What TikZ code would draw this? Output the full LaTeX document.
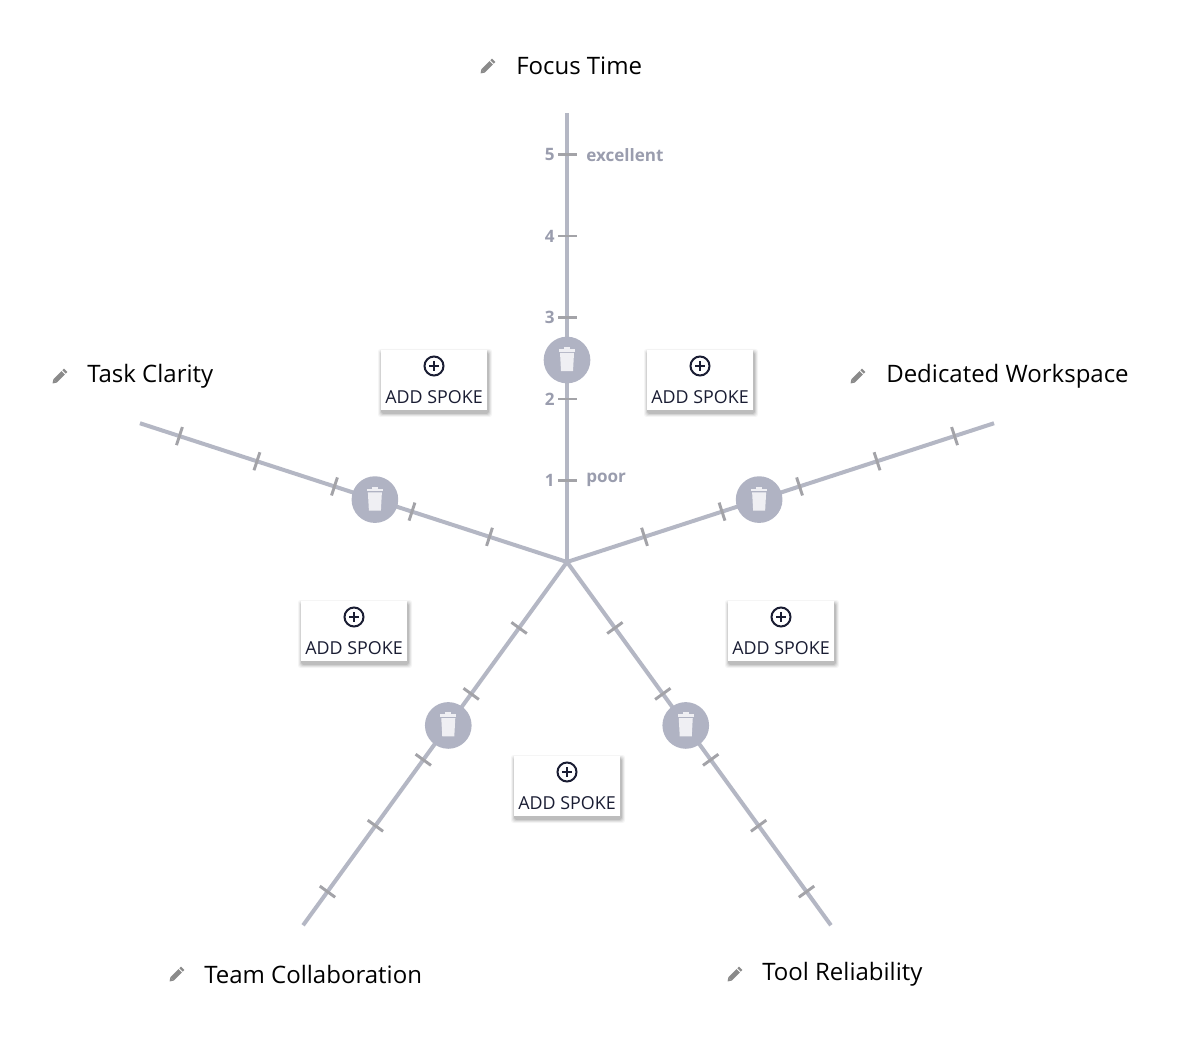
\documentclass[tikz,border=0pt]{standalone}
\usepackage{fontspec}
\setmainfont{Open Sans}
\usetikzlibrary{calc}
\definecolor{spoke}{HTML}{B4B7C4}
\definecolor{tickc}{HTML}{A3A3A8}
\definecolor{numc}{HTML}{9A9DAE}
\definecolor{trashc}{HTML}{B0B3C3}
\definecolor{pen}{HTML}{8A8A8A}
\definecolor{ink}{HTML}{1A1D33}
\tikzset{
  spokeline/.style={draw=spoke,line width=3pt},
  tickmark/.style={draw=tickc,line width=2.2pt},
  num/.style={text=numc,font=\bfseries\fontsize{12.8}{14}\selectfont,inner sep=0pt},
  lab/.style={font=\fontsize{18}{20}\selectfont,anchor=west,inner sep=0pt},
  btn/.style={draw=none,fill=white,minimum width=79pt,minimum height=45pt},
}
\newcommand{\trashicon}[2]{%
  \fill[trashc] (#1,#2) circle (17.5pt);
  \fill[white,opacity=0.8] (#1-8,#2-11) rectangle (#1+8,#2-8.5);
  \fill[white,opacity=0.8] (#1-3,#2-13) rectangle (#1+3,#2-11);
  \fill[white,opacity=0.8] (#1-7,#2-7.2) -- (#1+7,#2-7.2) -- (#1+6,#2+11) -- (#1-6,#2+11) -- cycle;}
\newcommand{\pencil}[2]{%
  \begin{scope}[shift={(#1,#2)},rotate=45]
  \fill[pen] (-7,-2.4) rectangle (4.5,2.4);
  \fill[pen] (5.8,-2.4) rectangle (8,2.4);
  \fill[pen] (-7,-2.4) -- (-10.5,0) -- (-7,2.4) -- cycle;
  \end{scope}}
\newcommand{\addspoke}[3]{%
  \foreach \s/\o in {4/0.04,3/0.06,2/0.08,1/0.1}{
    \fill[black,opacity=\o,rounded corners=2] (#2-53-\s+1,#3-30-\s+3) rectangle (#2+53+\s+1,#3+30+\s+3);}
  \node[btn] (#1) at (#2,#3) {};
  \draw[ink,line width=1.5pt] (#2,#3-14) circle (9.5);
  \draw[ink,line width=1.5pt] (#2-5,#3-14) -- (#2+5,#3-14) (#2,#3-19) -- (#2,#3-9);
  \node[text=ink,font=\fontsize{13.4}{15}\selectfont,inner sep=0pt] at (#2,#3+17) {ADD SPOKE};}
\begin{document}
\begin{tikzpicture}[x=0.75pt,y=-0.75pt]
\useasboundingbox[fill=white] (0,0) rectangle (1182,1048);
\coordinate (c) at (567,562);
\foreach \a/\n in {-90/t,-18/r,198/l,54/br,126/bl}{
  \coordinate (e\n) at ($(c)+(\a:449)$);
  \draw[spokeline] (c) -- (e\n);
  \foreach \k in {1,...,5}{
    \draw[tickmark] ($(c)+(\a:81.5*\k)+(\a+90:9.5)$) -- ($(c)+(\a:81.5*\k)+(\a-90:9.5)$);
  }
}
\foreach \a in {-90,-18,198,54,126}{
  \path let \p1=($(c)+(\a:202)$) in \pgfextra{\pgfmathsetmacro\tx{\x1/0.75pt}\pgfmathsetmacro\ty{-\y1/0.75pt}\xdef\tx{\tx}\xdef\ty{\ty}};
  \trashicon{\tx}{\ty}
}
\foreach \k in {1,...,5}{
  \node[num,anchor=east] (n\k) at (555,{562-81.5*\k}) {\k};
}
\node[num,anchor=west] (exc) at (586,155) {excellent};
\node[num,anchor=west] (poor) at (586,480) {poor};
\addspoke{b1}{434}{380}
\addspoke{b2}{700}{380}
\addspoke{b3}{354}{631}
\addspoke{b4}{781}{631}
\addspoke{b5}{567}{786}
\pencil{488}{66}\node[lab] (l1) at (516,66) {Focus Time};
\pencil{60}{376}\node[lab] (l2) at (87,376) {Task Clarity};
\pencil{858}{376}\node[lab] (l3) at (886,376) {Dedicated Workspace};
\pencil{177}{974}\node[lab] (l4) at (204,974) {Team Collaboration};
\pencil{735}{974}\node[lab] (l5) at (762,974) {Tool Reliability};
\end{tikzpicture}
\end{document}
